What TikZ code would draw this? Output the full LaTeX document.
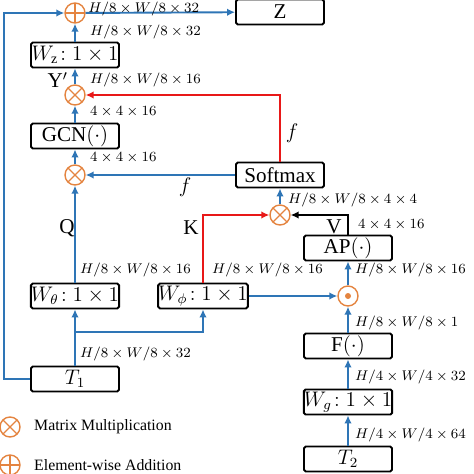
\documentclass[tikz,border=0pt]{standalone}
\usepackage{amsmath}
\usepackage{fontspec}
\setmainfont{Liberation Serif}
\usetikzlibrary{arrows.meta}

\definecolor{flowblue}{RGB}{46,117,182}
\definecolor{oporange}{RGB}{228,132,64}
\definecolor{attred}{RGB}{232,24,24}

\begin{document}
\begin{tikzpicture}[x=0.02cm, y=-0.02cm, >={Latex[length=1.6mm,width=1.5mm]},
	blk/.style={draw, line width=1.1pt, rounded corners=1pt, minimum width=1.76cm, minimum height=0.5cm, inner sep=0pt, font=\large},
	op/.style={circle, draw=oporange, line width=0.8pt, minimum size=0.4cm, inner sep=0pt},
	mul/.style={op, path picture={\draw[oporange, line width=0.8pt] (path picture bounding box.north west) -- (path picture bounding box.south east) (path picture bounding box.north east) -- (path picture bounding box.south west);}},
	add/.style={op, path picture={\draw[oporange, line width=0.8pt] (path picture bounding box.north) -- (path picture bounding box.south) (path picture bounding box.west) -- (path picture bounding box.east);}},
	gate/.style={op, path picture={\fill[oporange] (path picture bounding box.center) circle (0.06cm);}},
	flow/.style={->, flowblue, line width=1.1pt},
	dim/.style={font=\footnotesize, anchor=west, inner sep=1pt},
	tag/.style={font=\large, inner sep=1pt}]
	\useasboundingbox (0,0) rectangle (474,474);
	% main column
	\node[add] (add1) at (75,13) {};
	\node[blk] (Z) at (280,12) {Z};
	\node[blk] (Wz) at (75,55) {$W_{\mathrm{z}}\!:1\times 1$};
	\node[mul] (mul1) at (75,95) {};
	\node[blk] (GCN) at (75,136) {GCN$(\cdot)$};
	\node[mul] (mul2) at (75,175) {};
	\node[blk] (Wth) at (75,296) {$W_{\theta}\!:1\times 1$};
	\node[blk] (T1) at (75,379) {$T_1$};
	% key and value branch
	\node[blk] (Soft) at (280,175) {Softmax};
	\node[mul] (mul3) at (280,215) {};
	\node[blk] (Wph) at (203,296) {$W_{\phi}\!:1\times 1$};
	\node[blk] (AP) at (348,248) {AP$(\cdot)$};
	\node[gate] (dot) at (348,296) {};
	\node[blk] (F) at (348,346) {F$(\cdot)$};
	\node[blk] (Wg) at (348,402) {$W_{g}\!:1\times 1$};
	\node[blk] (T2) at (348,459) {$T_2$};
	% connectors
	\draw[flow] (T1) -- (Wth);
	\coordinate (br) at (75,332);
	\draw[flow] (br) -| (Wph.south);
	\draw[flow] (Wth) -- (mul2);
	\draw[flow] (mul2) -- (GCN);
	\draw[flow] (GCN) -- (mul1);
	\draw[flow] (mul1) -- (Wz);
	\draw[flow] (Wz) -- (add1);
	\draw[flow] (add1) -- (Z);
	\draw[flow] (T1.west) -- ++(-26,0) |- (add1.west);
	\draw[flow] (Soft.west) -- (mul2);
	\draw[->, attred, line width=1.1pt] (Soft.north) |- (mul1.east);
	\draw[->, attred, line width=1.1pt] (Wph.north) |- (mul3.west);
	\draw[->, line width=1.1pt] (AP.north) |- (mul3.east);
	\draw[flow] (mul3) -- (Soft);
	\draw[flow] (Wph.east) -- (dot);
	\draw[flow] (dot) -- (AP);
	\draw[flow] (F) -- (dot);
	\draw[flow] (Wg) -- (F);
	\draw[flow] (T2) -- (Wg);
	% sizes and labels
	\node[dim, inner sep=0pt] (d1) at (88,9) {$H/8\times W/8\times 32$};
	\node[dim] (d2) at (88,32) {$H/8\times W/8\times 32$};
	\node[tag, anchor=east] (yp) at (70,80) {Y$'$};
	\node[dim] (d3) at (88,80) {$H/8\times W/8\times 16$};
	\node[dim] (d4) at (88,112) {$4\times 4\times 16$};
	\node[dim] (d5) at (88,158) {$4\times 4\times 16$};
	\node[tag] (f1) at (292,133) {$f$};
	\node[tag] (f2) at (185,187) {$f$};
	\node[dim] (d6) at (286,200) {$H/8\times W/8\times 4\times 4$};
	\node[tag] (q) at (67,228) {Q};
	\node[tag] (k) at (191,228) {K};
	\node[tag] (v) at (334,227) {V};
	\node[dim] (d7) at (356,225) {$4\times 4\times 16$};
	\node[dim] (d8) at (78,270) {$H/8\times W/8\times 16$};
	\node[dim] (d9) at (210,270) {$H/8\times W/8\times 16$};
	\node[dim] (d10) at (353,270) {$H/8\times W/8\times 16$};
	\node[dim] (d11) at (353,323) {$H/8\times W/8\times 1$};
	\node[dim] (d12) at (78,354) {$H/8\times W/8\times 32$};
	\node[dim] (d13) at (353,377) {$H/4\times W/4\times 32$};
	\node[dim] (d14) at (353,435) {$H/4\times W/4\times 64$};
	% legend
	\node[mul] (lmul) at (10,427) {};
	\node[font=\small, anchor=west] (lmtxt) at (28,427) {Matrix Multiplication};
	\node[add] (ladd) at (10,465) {};
	\node[font=\small, anchor=west] (latxt) at (28,465) {Element-wise Addition};
\end{tikzpicture}
\end{document}
